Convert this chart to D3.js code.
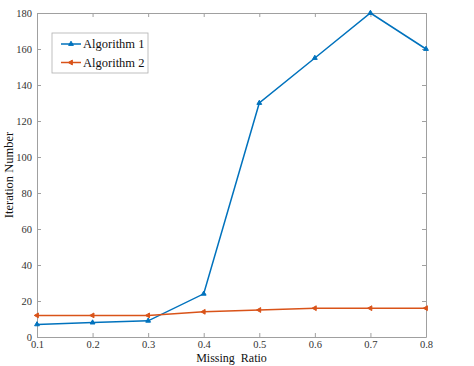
<!DOCTYPE html>
<html>
<head>
<meta charset="utf-8">
<script src="https://cdn.jsdelivr.net/npm/d3@7"></script>
<style>
body { margin: 0; background: white; }
</style>
</head>
<body>
<script>
var ratios = [0.1, 0.2, 0.3, 0.4, 0.5, 0.6, 0.7, 0.8]
var algo1 = [7, 8, 9, 24, 130, 155, 180, 160]
var algo2 = [12, 12, 12, 14, 15, 16, 16, 16]
var yTicks = [0, 20, 40, 60, 80, 100, 120, 140, 160, 180]
var seriesNames = ["Algorithm 1", "Algorithm 2"]
var seriesColors = ["#0072BD", "#D95319"]

var serif = "'Liberation Serif', 'Times New Roman', serif"

var w = 474, h = 366
var margin = {left: 37, right: 48, top: 13, bottom: 29}

var svg = d3.select("body").append("svg")
    .attr("width", w)
    .attr("height", h)

var x = d3.scaleLinear().domain([0.1, 0.8]).range([margin.left, w - margin.right])
var y = d3.scaleLinear().domain([0, 180]).range([h - margin.bottom, margin.top])

var axisColor = "#a0a0a0"
var tickLen = 4

function styleAxis(g) {
    g.attr("font-family", serif)
    g.select(".domain").attr("stroke", axisColor)
    g.selectAll(".tick line").attr("stroke", axisColor)
    g.selectAll(".tick text")
        .attr("fill", "#333")
        .attr("font-size", 10.5)
}

// bottom
svg.append("g")
    .attr("transform", "translate(0," + y(0) + ")")
    .call(d3.axisBottom(x).tickValues(ratios).tickFormat(d3.format(".1f"))
        .tickSizeInner(-tickLen).tickSizeOuter(0).tickPadding(4))
    .call(styleAxis)

// top
svg.append("g")
    .attr("transform", "translate(0," + y(180) + ")")
    .call(d3.axisTop(x).tickValues(ratios).tickFormat("")
        .tickSizeInner(-tickLen).tickSizeOuter(0))
    .call(styleAxis)

// left
svg.append("g")
    .attr("transform", "translate(" + x(0.1) + ",0)")
    .call(d3.axisLeft(y).tickValues(yTicks)
        .tickSizeInner(-tickLen).tickSizeOuter(0).tickPadding(5))
    .call(styleAxis)

// right
svg.append("g")
    .attr("transform", "translate(" + x(0.8) + ",0)")
    .call(d3.axisRight(y).tickValues(yTicks).tickFormat("")
        .tickSizeInner(-tickLen).tickSizeOuter(0))
    .call(styleAxis)

var line = d3.line()
    .x((d, i) => x(ratios[i]))
    .y(d => y(d))

var tri = d3.symbol().type(d3.symbolTriangle).size(10)

var allSeries = [algo1, algo2]

allSeries.forEach(function(data, k) {
    svg.append("path")
        .datum(data)
        .attr("fill", "none")
        .attr("stroke", seriesColors[k])
        .attr("stroke-width", 1.5)
        .attr("d", line)

    svg.selectAll(".m" + k)
        .data(data)
        .enter()
        .append("path")
        .attr("class", "m" + k)
        .attr("d", tri)
        .attr("transform", (d, i) => "translate(" + x(ratios[i]) + "," + y(d) + ")" + (k === 1 ? " rotate(-90)" : ""))
        .attr("fill", seriesColors[k])
        .attr("stroke", seriesColors[k])
        .attr("stroke-width", 1)
})

// legend
var lg = svg.append("g").attr("transform", "translate(52,33)")
lg.append("rect")
    .attr("width", 96)
    .attr("height", 40)
    .attr("fill", "white")
    .attr("stroke", "#b0b0b0")
    .attr("stroke-width", 0.8)

seriesNames.forEach(function(name, k) {
    var ly = 11 + k * 18.5
    lg.append("line")
        .attr("x1", 9).attr("x2", 29)
        .attr("y1", ly).attr("y2", ly)
        .attr("stroke", seriesColors[k])
        .attr("stroke-width", 1.5)
    lg.append("path")
        .attr("d", tri)
        .attr("transform", "translate(19," + ly + ")" + (k === 1 ? " rotate(-90)" : ""))
        .attr("fill", seriesColors[k])
        .attr("stroke", seriesColors[k])
    lg.append("text")
        .attr("x", 31)
        .attr("y", ly + 4)
        .attr("font-family", serif)
        .attr("font-size", 12.5)
        .attr("fill", "#111")
        .text(name)
})

// axis labels
svg.append("text")
    .attr("x", (x(0.1) + x(0.8)) / 2)
    .attr("y", 362)
    .attr("text-anchor", "middle")
    .attr("font-family", serif)
    .attr("font-size", 12)
    .attr("fill", "#111")
    .attr("xml:space", "preserve")
    .text("Missing  Ratio")

svg.append("text")
    .attr("transform", "translate(13," + (y(90)) + ") rotate(-90)")
    .attr("text-anchor", "middle")
    .attr("font-family", serif)
    .attr("font-size", 12.5)
    .attr("fill", "#111")
    .text("Iteration Number")
</script>
</body>
</html>
